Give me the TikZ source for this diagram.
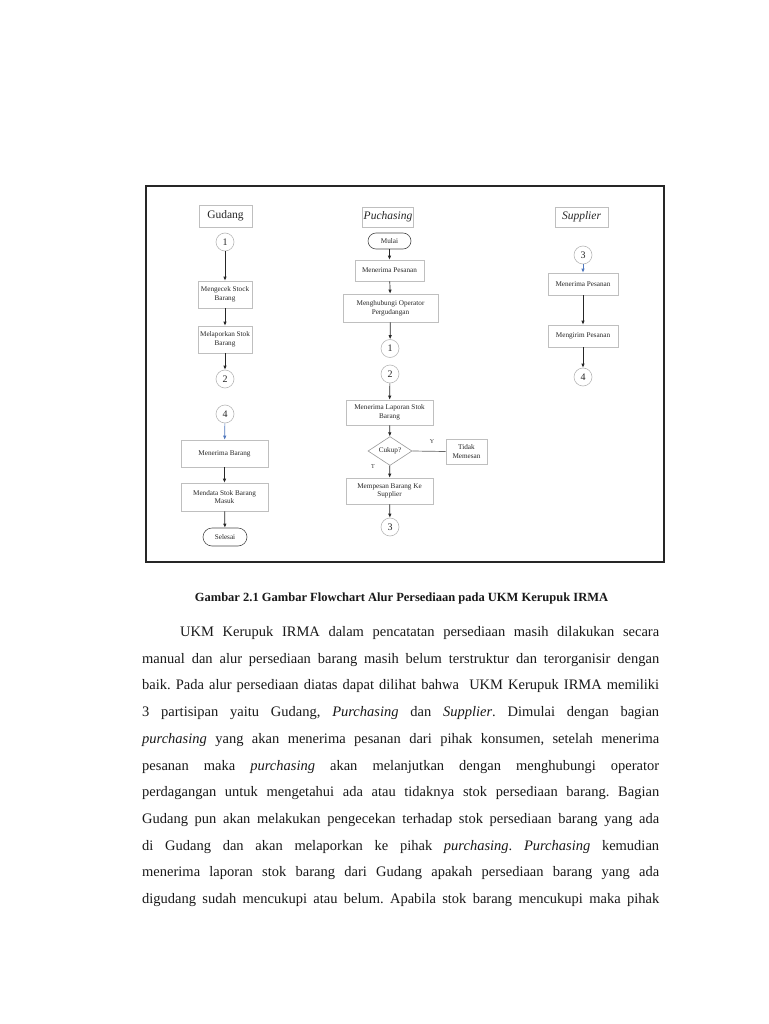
\documentclass[tikz,border=0pt]{standalone}
\usepackage{fontspec}
\setmainfont{Liberation Serif}
\usetikzlibrary{arrows.meta,shapes.geometric}
\definecolor{arrblue}{RGB}{80,120,190}
\frenchspacing
\begin{document}
\frenchspacing
\begin{tikzpicture}[x=1pt,y=-1pt,
  box/.style={draw=black!25, line width=0.6pt, inner sep=1pt, align=center,
    font=\fontsize{7.2}{8.6}\selectfont, text=black!85},
  head/.style={draw=black!25, line width=0.6pt, inner sep=1pt,
    font=\fontsize{11.5}{13}\selectfont, text=black!85},
  conn/.style={circle, draw=black!28, line width=0.6pt, minimum size=18pt,
    inner sep=0pt, font=\fontsize{10}{12}\selectfont, text=black!85},
  term/.style={draw=black!70, line width=0.6pt, inner sep=1pt,
    font=\fontsize{7.2}{8.6}\selectfont, text=black!85},
  dec/.style={diamond, draw=black!40, line width=0.6pt, inner sep=0pt,
    minimum width=44pt, minimum height=26pt, font=\fontsize{7.2}{8.6}\selectfont, text=black!85},
  arr/.style={-{Latex[length=4pt,width=3.4pt]}, line width=0.7pt, draw=black!85},
  barr/.style={-{Latex[length=4pt,width=3.4pt]}, line width=0.7pt, draw=arrblue},
  lab/.style={font=\fontsize{6}{7}\selectfont, text=black!80, inner sep=0pt},
  bodyline/.style={anchor=base west, inner sep=0pt, font=\fontsize{14.5}{17}\selectfont, text=black!90}
]
\useasboundingbox (0,0) rectangle (768,1024);
\fill[white] (0,0) rectangle (768,1024);

% frame
\draw[line width=2pt, black!85] (146,186) rectangle (663.5,562);

% Gudang column
\node[head, minimum width=53pt, minimum height=22pt] (gHead) at (225.5,216) {Gudang};
\node[conn] (g1) at (225,242) {1};
\node[box, minimum width=54pt, minimum height=27pt] (gCek) at (225,294.5) {Mengecek Stock\\Barang};
\node[box, minimum width=54pt, minimum height=27pt] (gLapor) at (225,339.5) {Melaporkan Stok\\Barang};
\node[conn] (g2) at (225,379) {2};
\node[conn] (g4) at (225,414) {4};
\node[box, minimum width=87pt, minimum height=27pt] (gTerima) at (224.5,453.5) {Menerima Barang};
\node[box, minimum width=87pt, minimum height=28pt] (gData) at (224.5,497) {Mendata Stok Barang\\Masuk};
\node[term, rounded corners=9pt, minimum width=44pt, minimum height=18pt] (gEnd) at (225,537) {Selesai};

% Purchasing column
\node[head, minimum width=50pt, minimum height=20pt, font=\fontsize{11.5}{13}\selectfont\itshape] (pHead) at (388,217) {Puchasing};
\node[term, rounded corners=8pt, minimum width=43pt, minimum height=16pt] (pStart) at (389.5,241) {Mulai};
\node[box, minimum width=69pt, minimum height=21pt] (pTerima) at (389.5,270.5) {Menerima Pesanan};
\node[box, minimum width=95pt, minimum height=28pt] (pHubungi) at (390.5,308) {Menghubungi Operator\\Pergudangan};
\node[conn] (p1) at (390,348.5) {1};
\node[conn] (p2) at (390,374) {2};
\node[box, minimum width=87pt, minimum height=25pt] (pLaporan) at (389.5,412.5) {Menerima Laporan Stok\\Barang};
\node[dec] (pCukup) at (390,451) {Cukup?};
\node[box, minimum width=41pt, minimum height=25pt] (pTidak) at (466.5,451.5) {Tidak\\Memesan};
\node[box, minimum width=87pt, minimum height=26pt] (pPesan) at (389.5,491) {Mempesan Barang Ke\\Supplier};
\node[conn] (p3) at (390,527) {3};
\node[lab] (labY) at (432,442) {Y};
\node[lab] (labT) at (373,467) {T};

% Supplier column
\node[head, minimum width=53pt, minimum height=20pt, font=\fontsize{11.5}{13}\selectfont\itshape] (sHead) at (581.5,217) {Supplier};
\node[conn] (s3) at (583,255) {3};
\node[box, minimum width=70pt, minimum height=22pt] (sTerima) at (583,284) {Menerima Pesanan};
\node[box, minimum width=70pt, minimum height=22pt] (sKirim) at (583,336) {Mengirim Pesanan};
\node[conn] (s4) at (583,377) {4};

% connectors
\draw[arr] (g1) -- (gCek);
\draw[arr] (gCek) -- (gLapor);
\draw[arr] (gLapor) -- (g2);
\draw[barr] (g4) -- (gTerima);
\draw[arr] (gTerima) -- (gData);
\draw[arr] (gData) -- (gEnd);
\draw[arr] (pStart) -- (pTerima);
\draw[arr] (pTerima) -- (pHubungi);
\draw[arr] (pHubungi) -- (p1);
\draw[arr] (p2) -- (pLaporan);
\draw[arr] (pLaporan) -- (pCukup);
\draw[line width=0.7pt, draw=black!60] (pCukup.east) -- (pTidak.west);
\draw[arr] (pCukup) -- (pPesan);
\draw[arr] (pPesan) -- (p3);
\draw[barr] (s3) -- (sTerima);
\draw[arr] (sTerima) -- (sKirim);
\draw[arr] (sKirim) -- (s4);

% caption
\node[anchor=base, inner sep=0pt, font=\fontsize{12.5}{15}\selectfont\bfseries, text=black!90] (cap) at (401.5,601)
  {Gambar 2.1 Gambar Flowchart Alur Persediaan pada UKM Kerupuk IRMA};

% body text
\node[bodyline] (l1) at (180,636.5) {\makebox[479pt][s]{UKM Kerupuk IRMA dalam pencatatan persediaan masih dilakukan secara}};
\node[bodyline] (l2) at (142,663.2) {\makebox[517pt][s]{manual dan alur persediaan barang masih belum terstruktur dan terorganisir dengan}};
\node[bodyline] (l3) at (142,689.9) {\makebox[517pt][s]{baik. Pada alur persediaan diatas dapat dilihat bahwa\ \ UKM Kerupuk IRMA memiliki}};
\node[bodyline] (l4) at (142,716.6) {\makebox[517pt][s]{3 partisipan yaitu Gudang, \textit{Purchasing} dan \textit{Supplier}. Dimulai dengan bagian}};
\node[bodyline] (l5) at (142,743.3) {\makebox[517pt][s]{\textit{purchasing} yang akan menerima pesanan dari pihak konsumen, setelah menerima}};
\node[bodyline] (l6) at (142,770.0) {\makebox[517pt][s]{pesanan maka \textit{purchasing} akan melanjutkan dengan menghubungi operator}};
\node[bodyline] (l7) at (142,796.7) {\makebox[517pt][s]{perdagangan untuk mengetahui ada atau tidaknya stok persediaan barang. Bagian}};
\node[bodyline] (l8) at (142,823.4) {\makebox[517pt][s]{Gudang pun akan melakukan pengecekan terhadap stok persediaan barang yang ada}};
\node[bodyline] (l9) at (142,850.1) {\makebox[517pt][s]{di Gudang dan akan melaporkan ke pihak \textit{purchasing}. \textit{Purchasing} kemudian}};
\node[bodyline] (l10) at (142,876.8) {\makebox[517pt][s]{menerima laporan stok barang dari Gudang apakah persediaan barang yang ada}};
\node[bodyline] (l11) at (142,903.5) {\makebox[517pt][s]{digudang sudah mencukupi atau belum. Apabila stok barang mencukupi maka pihak}};
\end{tikzpicture}
\end{document}
